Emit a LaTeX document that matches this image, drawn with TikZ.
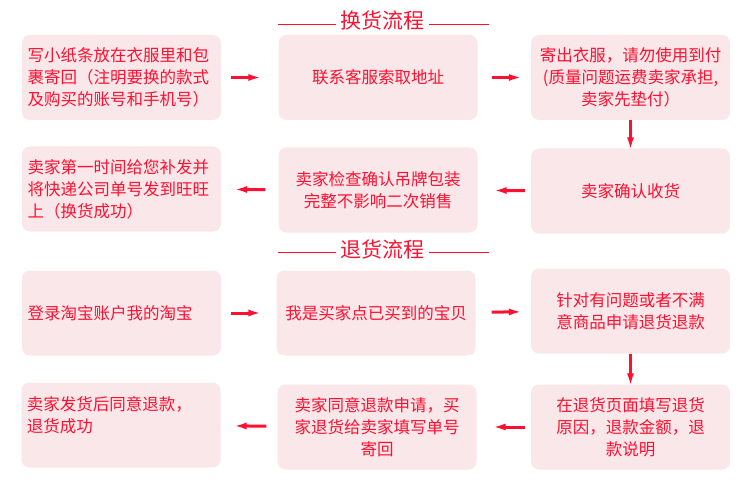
\documentclass[tikz,border=0pt]{standalone}
\usepackage{fontspec}
\setmainfont{Noto Sans CJK SC}
\usepackage{tikz}
\usetikzlibrary{positioning}
\usetikzlibrary{shapes.geometric, arrows.meta}
\definecolor{flowred}{HTML}{FF1030}
\definecolor{boxpink}{HTML}{FAE7E9}
\tikzstyle{stepbox} = [rounded corners=8pt,fill=boxpink,text=flowred,minimum width=199pt,minimum height=85pt,text width=188pt,inner sep=0pt,font=\fontsize{16.5}{22}\selectfont]
\tikzstyle{goarrow} = [draw=flowred,line width=3pt,-{Latex[length=14pt,width=7pt]}]
\tikzstyle{headline} = [text=flowred,font=\fontsize{21}{24}\selectfont,inner sep=4pt]
\tikzstyle{headrule} = [draw=flowred,line width=0.9pt]

\begin{document}
\begin{tikzpicture}[x=1pt,y=-1pt]
	\useasboundingbox (0,0) rectangle (750,500);
	% exchange
	\node[headline] (swap title) at (382.5,20) {换货流程};
	\draw[headrule] ([yshift=-4pt]swap title.west) -- ++(-58,0);
	\draw[headrule] ([yshift=-4pt]swap title.east) -- ++(60,0);
	\node[stepbox,align=left]   (swap a) at (121.5,77.5) {写小纸条放在衣服里和包\\裹寄回（注明要换的款式\\及购买的账号和手机号）};
	\node[stepbox,align=center] (swap b) at (378,77.5)   {联系客服索取地址};
	\node[stepbox,align=center] (swap c) at (630.5,77.5) {寄出衣服，请勿使用到付\\(质量问题运费卖家承担,\\卖家先垫付）};
	\node[stepbox,align=center] (swap d) at (630.5,191)  {卖家确认收货};
	\node[stepbox,align=center] (swap e) at (378,190)    {卖家检查确认吊牌包装\\完整不影响二次销售};
	\node[stepbox,align=left]   (swap f) at (121.5,189)  {卖家第一时间给您补发并\\将快递公司单号发到旺旺\\上（换货成功）};
	\draw[goarrow,shorten <=10pt,shorten >=16pt] (swap a) -- (swap b);
	\draw[goarrow,shorten <=14pt,shorten >=8pt]  (swap b) -- (swap c);
	\draw[goarrow,shorten >=-3pt] (swap c) -- (swap d);
	\draw[goarrow,shorten <=6pt,shorten >=15pt]  (swap d) -- (swap e);
	\draw[goarrow,shorten <=13pt,shorten >=12pt] (swap e) -- (swap f);
	% refund
	\node[headline] (back title) at (382.5,249) {退货流程};
	\draw[headrule] ([yshift=-3pt]back title.west) -- ++(-58,0);
	\draw[headrule] ([yshift=-3pt]back title.east) -- ++(60,0);
	\node[stepbox,align=left]   (back a) at (121.5,313) {登录淘宝账户我的淘宝};
	\node[stepbox,align=center] (back b) at (376,313)   {我是买家点已买到的宝贝};
	\node[stepbox,align=center] (back c) at (630.5,311) {针对有问题或者不满\\意商品申请退货退款};
	\node[stepbox,align=center] (back d) at (630.5,427) {在退货页面填写退货\\原因，退款金额，退\\款说明};
	\node[stepbox,align=center] (back e) at (377,427)   {卖家同意退款申请，买\\家退货给卖家填写单号\\寄回};
	\node[stepbox,align=left]   (back f) at (121,425)   {卖家发货后同意退款，\\退货成功\\~};
	\draw[goarrow,shorten <=10pt,shorten >=14pt] (back a) -- (back b);
	\draw[goarrow,shorten <=16pt,shorten >=8pt]  (back b) -- (back c);
	\draw[goarrow,shorten >=-3pt] (back c) -- (back d);
	\draw[goarrow,shorten <=6pt,shorten >=15pt]  (back d) -- (back e);
	\draw[goarrow,shorten <=11pt,shorten >=12pt] (back e) -- (back f);
\end{tikzpicture}
\end{document}
